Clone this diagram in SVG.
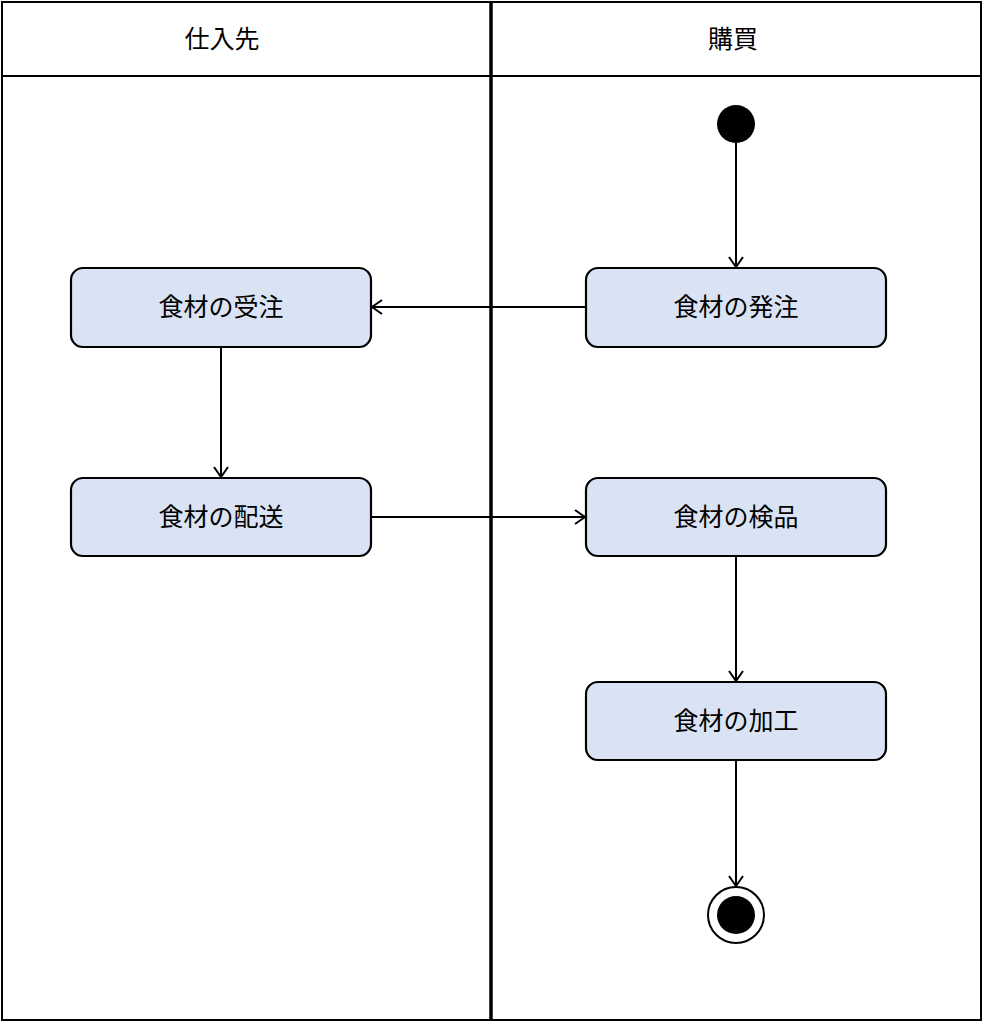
<svg xmlns="http://www.w3.org/2000/svg" width="984" height="1024" viewBox="0 0 984 1024">
<defs>
<style>
.lane{fill:#ffffff;stroke:#000;stroke-width:2}
.node rect{fill:#dae3f3;stroke:#000;stroke-width:2.2}
text{font-family:"Noto Sans CJK JP","Noto Sans",sans-serif;font-size:25px;fill:#000;text-anchor:middle;dominant-baseline:central}
.hdr{font-size:25px}
.edge{fill:none;stroke:#000;stroke-width:2;marker-end:url(#arr)}
</style>
<marker id="arr" viewBox="0 0 12 16" refX="11" refY="8" markerWidth="12" markerHeight="16" markerUnits="userSpaceOnUse" orient="auto">
<path d="M1,1 L11,8 L1,15" fill="none" stroke="#000" stroke-width="2"/>
</marker>
</defs>
<rect x="0" y="0" width="984" height="1024" fill="#fff"/>
<g id="lanes">
<rect class="lane" x="2" y="2" width="489" height="1018"/>
<rect class="lane" x="491" y="2" width="490" height="1018"/>
<line x1="2" y1="76" x2="981" y2="76" stroke="#000" stroke-width="2"/>
<line x1="491" y1="2" x2="491" y2="1020" stroke="#000" stroke-width="3.5"/>
<text class="hdr" x="222" y="37">仕入先</text>
<text class="hdr" x="733" y="37">購買</text>
</g>
<g id="connectors">
<line class="edge" x1="736" y1="143" x2="736" y2="267"/>
<line class="edge" x1="586" y1="307" x2="372" y2="307"/>
<line class="edge" x1="221" y1="347" x2="221" y2="477"/>
<line class="edge" x1="371" y1="517" x2="585" y2="517"/>
<line class="edge" x1="736" y1="556" x2="736" y2="681"/>
<line class="edge" x1="736" y1="760" x2="736" y2="886"/>
</g>
<g id="start"><circle cx="736" cy="124" r="19" fill="#000"/></g>
<g id="n1" class="node"><rect x="71" y="268" width="300" height="79" rx="12"/><text x="221" y="305">食材の受注</text></g>
<g id="n2" class="node"><rect x="586" y="268" width="300" height="79" rx="12"/><text x="736" y="305">食材の発注</text></g>
<g id="n3" class="node"><rect x="71" y="478" width="300" height="78" rx="12"/><text x="221" y="515">食材の配送</text></g>
<g id="n4" class="node"><rect x="586" y="478" width="300" height="78" rx="12"/><text x="736" y="515">食材の検品</text></g>
<g id="n5" class="node"><rect x="586" y="682" width="300" height="78" rx="12"/><text x="736" y="719">食材の加工</text></g>
<g id="end"><circle cx="736" cy="915" r="28" fill="#fff" stroke="#000" stroke-width="2"/><circle cx="736" cy="915" r="19" fill="#000"/></g>
</svg>
